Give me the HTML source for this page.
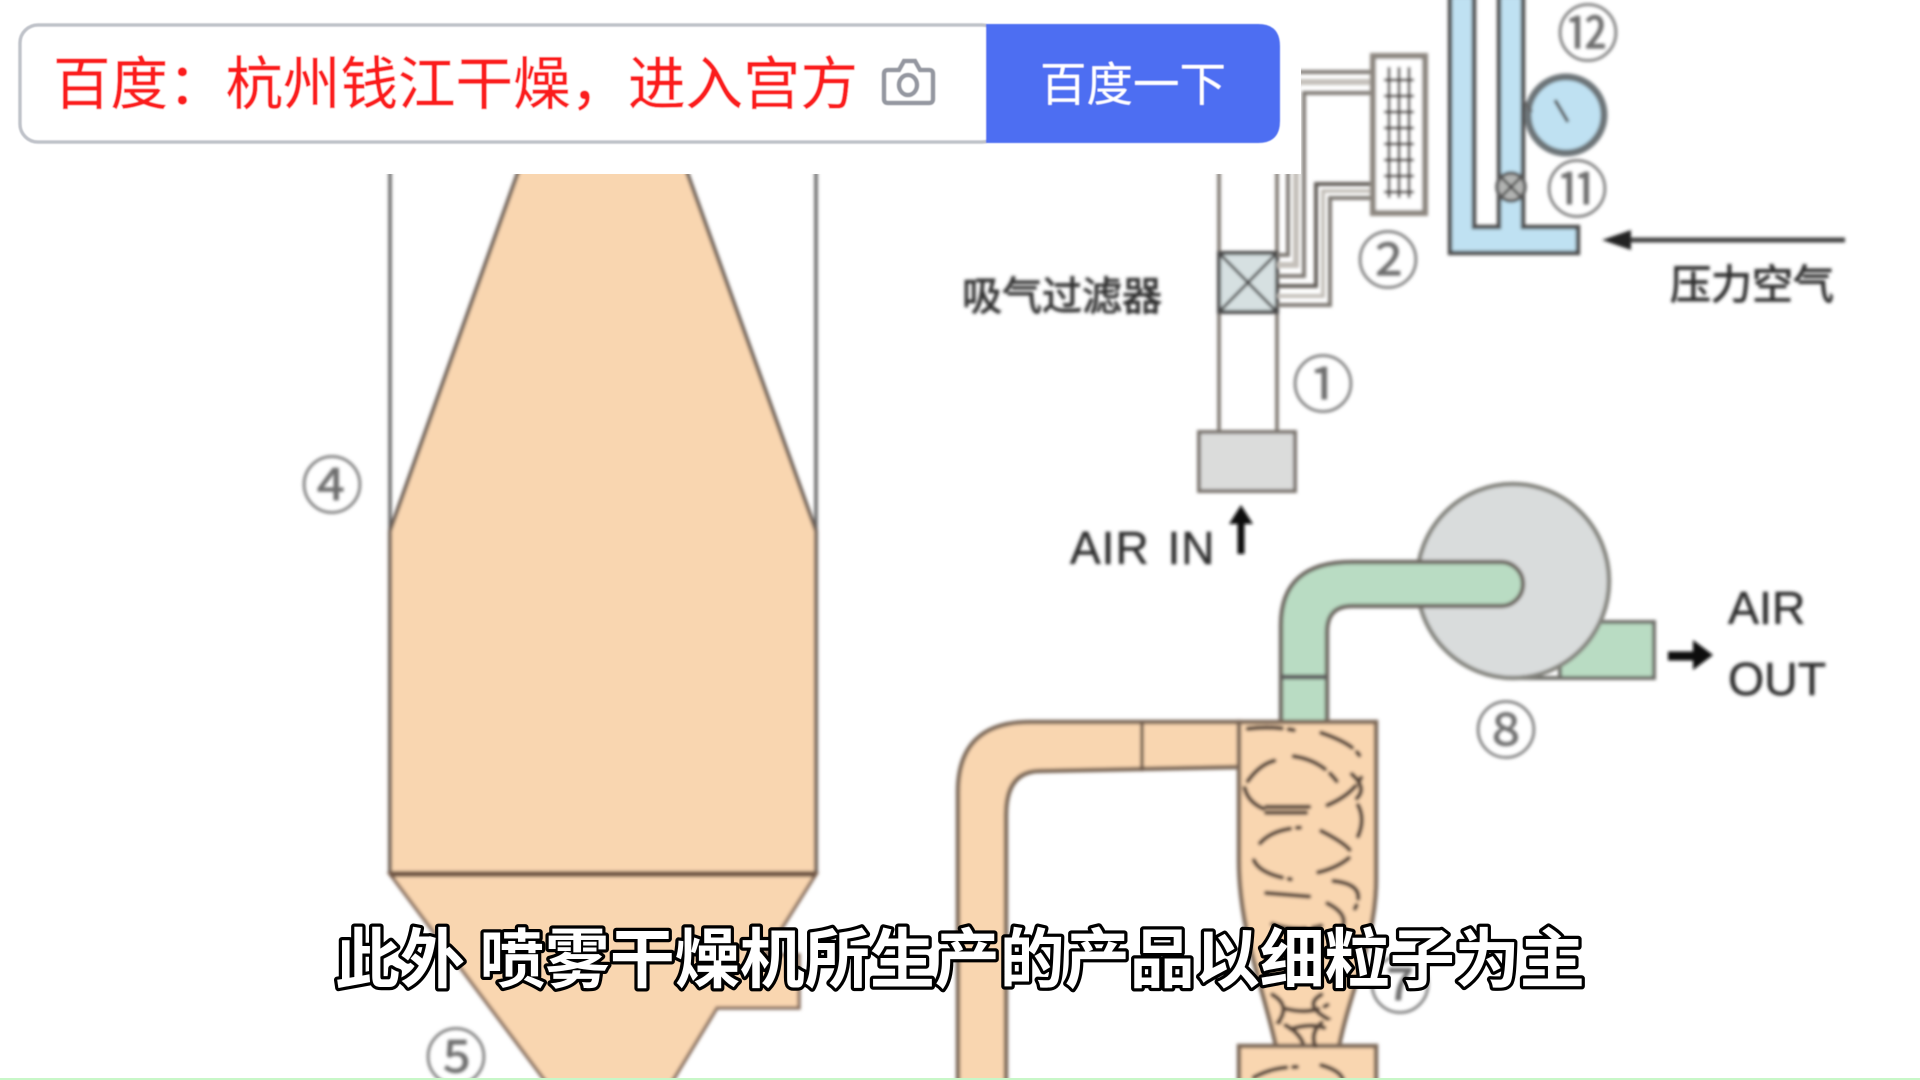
<!DOCTYPE html>
<html lang="zh"><head><meta charset="utf-8"><title>喷雾干燥机</title>
<style>
html,body{margin:0;padding:0;background:#fff;width:1920px;height:1080px;overflow:hidden}
svg{display:block}
text{font-family:"Liberation Sans","Noto Sans CJK SC",sans-serif}
.n{font-size:62px;fill:#6e6e6e;stroke:#6e6e6e;stroke-width:.5;text-anchor:middle;font-family:"Noto Sans CJK SC",sans-serif}
.d{fill:none;stroke:#5a483c;stroke-width:4.500;vector-effect:non-scaling-stroke;stroke-linecap:round;stroke-dasharray:34 7}
</style></head><body>
<svg width="1920" height="1080" viewBox="0 0 1920 1080" xmlns="http://www.w3.org/2000/svg">
<defs><filter id="b" x="-5%" y="-5%" width="110%" height="110%"><feGaussianBlur stdDeviation="1.500"/></filter>
<filter id="s" x="-5%" y="-5%" width="110%" height="110%"><feGaussianBlur stdDeviation="0.6"/></filter></defs>
<rect width="1920" height="1080" fill="#fff"/>
<g filter="url(#b)">
<!-- tower -->
<path d="M390 150V873M816 150V873" stroke="#666" stroke-width="3.500" fill="none"/>
<path d="M526 150L390 531V873H816V531L679 150Z" fill="#f9d6b0" stroke="#6f6258" stroke-width="4"/>
<path d="M390 874L552 1090H667L717 1008H799V955H765L816 874Z" fill="#f9d6b0" stroke="#8a7160" stroke-width="3.500"/>
<path d="M390 874H816" stroke="#705645" stroke-width="6"/>
<text class="n" x="332" y="508">④</text>
<text class="n" x="456" y="1080">⑤</text>

<!-- intake duct -->
<path d="M1219 150V432M1277 150V432" stroke="#78716a" stroke-width="3.500" fill="none"/>
<rect x="1199" y="432" width="96" height="59" fill="#dbdcdb" stroke="#7b7670" stroke-width="4"/>
<rect x="1219" y="253" width="58" height="59" fill="#d6e0e1" stroke="#4a4a4a" stroke-width="4"/>
<path d="M1219 253L1277 312M1277 253L1219 312" stroke="#4a4a4a" stroke-width="3"/>
<!-- pipes to heater -->
<g fill="none" stroke="#7f7a74" stroke-width="4">
<path d="M1373 72H1288V255H1277"/>
<path d="M1373 82H1296V265H1277" stroke="#c4c0ba" stroke-width="6"/>
<path d="M1373 93H1304V276H1277"/>
<path d="M1373 184H1316V286H1277" stroke="#625d59"/>
<path d="M1373 191H1323V296H1277" stroke="#c4c0ba"/>
<path d="M1373 198H1330V305H1277"/>
</g>
<rect x="1373" y="56" width="52" height="157" fill="#fff" stroke="#8d8780" stroke-width="6"/>
<g stroke="#4a433f" stroke-width="3" fill="none">
<path d="M1389 67V198M1399 67V198M1409 67V198"/>
<path d="M1384 80H1414M1384 96H1414M1384 112H1414M1384 128H1414M1384 144H1414M1384 160H1414M1384 176H1414M1384 192H1414"/>
</g>
<text class="n" x="1388" y="283">②</text>
<text class="n" x="1323" y="407">①</text>
<text x="962" y="310" font-size="40" fill="#333" stroke="#333" stroke-width="1">吸气过滤器</text>

<!-- blue tube -->
<path d="M1450 -5V253H1578V227H1523V-5H1499V227H1474V-5Z" fill="#bfe1f2" stroke="#505050" stroke-width="4.500"/>
<ellipse cx="1566" cy="115" rx="38" ry="38" fill="#bfe1f2" stroke="#6d7478" stroke-width="7"/>
<path d="M1568 122L1555 100" stroke="#555" stroke-width="3.500"/>
<path d="M1523 100L1532 112" stroke="#666" stroke-width="3"/>
<circle cx="1511" cy="187" r="14" fill="#b2b4b2" stroke="#5a5a5a" stroke-width="3.500"/>
<path d="M1502 178L1520 196M1520 178L1502 196" stroke="#444" stroke-width="2.500"/>
<text class="n" x="1588" y="56">⑫</text>
<text class="n" x="1577" y="212">⑪</text>
<path d="M1845 240H1620" stroke="#444" stroke-width="5"/>
<path d="M1602 240L1631 230V250Z" fill="#222"/>
<text x="1670" y="299" font-size="41" fill="#2e2e2e" stroke="#2e2e2e" stroke-width="1">压力空气</text>

<!-- air in -->
<text x="1070" y="564" font-size="46" fill="#2e2e2e" stroke="#2e2e2e" stroke-width=".5" letter-spacing="1" word-spacing="4">AIR IN</text>
<path d="M1241 554V520" stroke="#111" stroke-width="7"/>
<path d="M1229 524L1241 505L1253 524Z" fill="#111"/>

<!-- fan -->
<path d="M1520 678H1654V622H1560V678Z" fill="#b9dcc3" stroke="#6f6f6a" stroke-width="4"/>
<ellipse cx="1513" cy="581" rx="96" ry="97" fill="#d9dcdc" stroke="#85857f" stroke-width="4.500"/>
<path d="M1281 722V625Q1281 562 1352 562H1501A22 22 0 0 1 1501 606H1352Q1327 606 1327 632V722Z" fill="#b9dcc3" stroke="#6f6b64" stroke-width="4.500"/>
<path d="M1281 677H1327" stroke="#5e5e5e" stroke-width="5"/>
<path d="M1668 656H1695" stroke="#111" stroke-width="9"/>
<path d="M1713 655L1693 640V670Z" fill="#111"/>
<text x="1728" y="624" font-size="46.500" fill="#2e2e2e" stroke="#2e2e2e" stroke-width=".5">AIR</text>
<text x="1728" y="695" font-size="46.500" fill="#2e2e2e" stroke="#2e2e2e" stroke-width=".5">OUT</text>
<text class="n" x="1506" y="753">⑧</text>

<!-- orange duct -->
<path d="M958 1090V792Q958 722 1030 722H1239V767L1040 771Q1006 771 1006 815V1090Z" fill="#f9d6b0" stroke="#7e6a5a" stroke-width="4.500"/>
<path d="M1142 722V771" stroke="#6d5a4c" stroke-width="3.500"/>
<!-- cyclone -->
<path d="M1239 722H1376V880C1376 940 1350 990 1339 1046H1276C1264 990 1239 930 1239 860Z" fill="#f9d6b0" stroke="#7e6a5a" stroke-width="4.500"/>
<rect x="1239" y="1046" width="137" height="50" fill="#f9d6b0" stroke="#7e6a5a" stroke-width="4.500"/>
<text class="n" x="1400" y="1008">⑦</text>
<g transform="translate(960,540) scale(.6124,.3444)">
<path class="d" d="M470 548Q510 540 545 552"/>
<path class="d" d="M590 560Q640 590 652 625"/>
<path class="d" d="M545 628Q590 640 615 700"/>
<path class="d" d="M470 700Q490 650 515 640"/>
<path class="d" d="M465 720Q470 760 495 780"/>
<path class="d" d="M640 680Q665 720 648 750"/>
<path class="d" style="stroke-dasharray:none" d="M500 775L570 775M500 792L565 792"/>
<path class="d" d="M600 770Q640 740 655 690"/>
<path class="d" d="M650 770Q662 810 650 860"/>
<path class="d" d="M490 880Q510 840 555 835"/>
<path class="d" d="M590 845Q640 890 640 915"/>
<path class="d" d="M480 930Q490 970 540 985"/>
<path class="d" d="M585 965Q620 950 640 915"/>
<path class="d" style="stroke-dasharray:none" d="M500 1025L570 1035"/>
<path class="d" d="M610 990Q665 1000 645 1070"/>
<path class="d" d="M600 1055Q640 1090 620 1140"/>
<path class="d" d="M510 1115Q550 1140 590 1120"/>
<path class="d" d="M510 1320Q540 1350 520 1400Q550 1420 560 1460M590 1320Q560 1350 600 1390Q570 1420 580 1470M530 1360Q570 1380 600 1350M540 1420Q575 1400 600 1420"/>
<path class="d" d="M480 1560Q510 1530 550 1530M590 1525Q620 1540 625 1565"/>
</g>
</g>

<!-- baidu overlay -->
<rect x="0" y="0" width="1301" height="174" fill="#fff"/>
<g filter="url(#s)">
<rect x="20" y="25" width="980" height="117" rx="18" fill="#fff" stroke="#bfc2c9" stroke-width="3.500"/>
<path d="M986 24H1258Q1280 24 1280 46V121Q1280 143 1258 143H986Z" fill="#4e6ef2"/>
<text x="53" y="104" font-size="57.500" fill="#fb1f1f" stroke="#fb1f1f" stroke-width=".4" style="font-family:'Noto Sans CJK SC',sans-serif">百度：杭州钱江干燥，进入宫方</text>
<text x="1040" y="101" font-size="46.500" fill="#fff" style="font-family:'Noto Sans CJK SC',sans-serif">百度一下</text>
<g fill="none" stroke="#9497a0" stroke-width="4.500">
<path d="M888 70H899L904 61H915L920 70H929Q933 70 933 74V99Q933 103 929 103H888Q884 103 884 99V74Q884 70 888 70Z"/>
<ellipse cx="908" cy="85" rx="9" ry="10"/>
</g>
</g>

<rect x="0" y="1078" width="1920" height="2" fill="#c8f7c8"/>
<text x="335" y="982" font-size="65" fill="#fff" stroke="#000" stroke-width="6.500" stroke-linejoin="round" paint-order="stroke" font-weight="700" style="font-family:'Noto Sans CJK SC',sans-serif">此外 喷雾干燥机所生产的产品以细粒子为主</text>
</svg>
</body></html>
